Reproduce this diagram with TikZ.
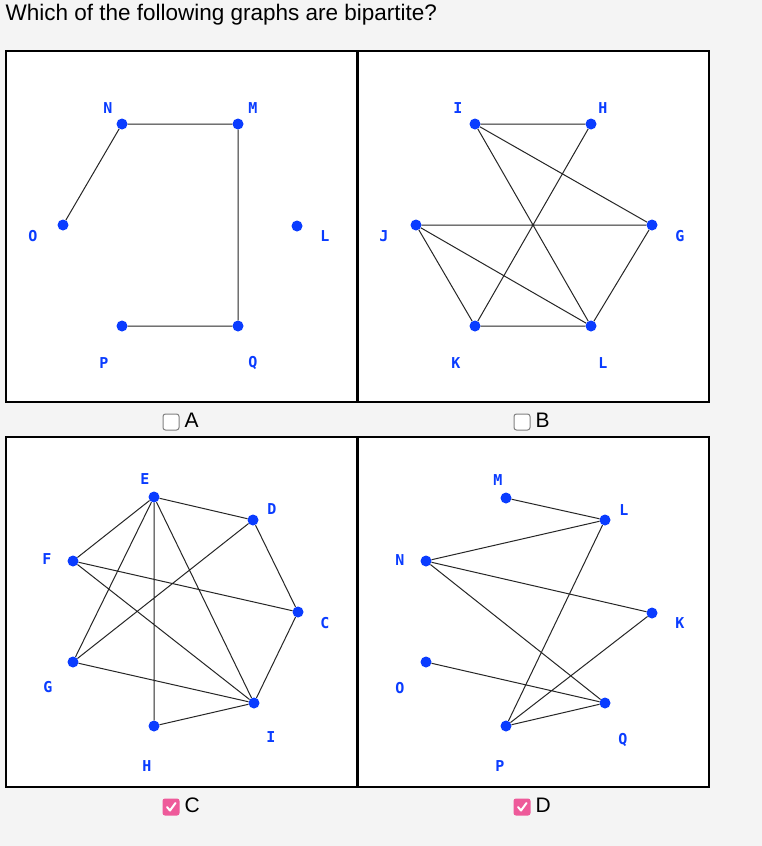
\documentclass[tikz,border=0pt]{standalone}
\usepackage{fontspec}
\setmainfont{Liberation Sans}
\newfontfamily\lblfont{DejaVu Sans Mono}
\definecolor{bg}{HTML}{F4F4F4}
\definecolor{vblue}{HTML}{0A3CFF}
\definecolor{pinkbox}{HTML}{EE5A9A}
\tikzset{
  vtx/.style={circle,fill=vblue,inner sep=0pt,minimum size=11pt},
  lbl/.style={text=vblue,font=\lblfont\bfseries\fontsize{15}{15}\selectfont},
  edge/.style={draw=black!85,line width=1pt},
  panel/.style={draw=black,line width=1.6pt,fill=white},
  cbox/.style={draw=gray,line width=1pt,rounded corners=2.5pt,fill=white,minimum size=16pt,inner sep=0pt},
  cboxon/.style={fill=pinkbox,rounded corners=2.5pt,minimum size=17pt,inner sep=0pt},
  opt/.style={font=\fontsize{21}{21}\selectfont,anchor=west}
}
\begin{document}
\begin{tikzpicture}[x=1pt,y=-1pt]
\fill[bg] (0,0) rectangle (762,846);
\useasboundingbox (0,0) rectangle (762,846);
\node[anchor=west,font=\fontsize{22.5}{22.5}\selectfont] (title) at (2,15) {Which of the following graphs are bipartite?};
\node[panel,minimum width=351pt,minimum height=351pt,anchor=north west,inner sep=0pt] (pA) at (5,50) {};
\node[panel,minimum width=351pt,minimum height=351pt,anchor=north west,inner sep=0pt] (pB) at (357,50) {};
\node[panel,minimum width=351pt,minimum height=350pt,anchor=north west,inner sep=0pt] (pC) at (5,436) {};
\node[panel,minimum width=351pt,minimum height=350pt,anchor=north west,inner sep=0pt] (pD) at (357,436) {};
% Graph A
\node[vtx] (aN) at (122,124) {}; \node[vtx] (aM) at (238,124) {};
\node[vtx] (aO) at (63,225) {}; \node[vtx] (aL) at (297,226) {};
\node[vtx] (aP) at (122,326) {}; \node[vtx] (aQ) at (238,326) {};
\draw[edge] (aN)--(aM) (aN)--(aO) (aM)--(aQ) (aQ)--(aP);
\node[lbl] (laN) at (108,108) {N}; \node[lbl] (laM) at (253,108) {M};
\node[lbl] (laO) at (33,236) {O}; \node[lbl] (laL) at (325,236) {L};
\node[lbl] (laP) at (104,363) {P}; \node[lbl] (laQ) at (253,363) {Q};
% Graph B
\node[vtx] (bI) at (475,124) {}; \node[vtx] (bH) at (591,124) {};
\node[vtx] (bJ) at (416,225) {}; \node[vtx] (bG) at (652,225) {};
\node[vtx] (bK) at (475,326) {}; \node[vtx] (bL) at (591,326) {};
\draw[edge] (bI)--(bH) (bI)--(bG) (bI)--(bL) (bH)--(bK) (bJ)--(bG) (bJ)--(bK) (bJ)--(bL) (bK)--(bL) (bG)--(bL);
\node[lbl] (lbI) at (458,108) {I}; \node[lbl] (lbH) at (603,108) {H};
\node[lbl] (lbJ) at (384,236) {J}; \node[lbl] (lbG) at (680,236) {G};
\node[lbl] (lbK) at (456,363) {K}; \node[lbl] (lbL) at (603,363) {L};
% Graph C
\node[vtx] (cE) at (154,497) {}; \node[vtx] (cD) at (253,520) {};
\node[vtx] (cF) at (73,561) {}; \node[vtx] (cC) at (298,612) {};
\node[vtx] (cG) at (73,662) {}; \node[vtx] (cI) at (254,703) {};
\node[vtx] (cH) at (154,726) {};
\draw[edge] (cE)--(cD) (cE)--(cF) (cE)--(cG) (cE)--(cH) (cE)--(cI) (cF)--(cC) (cF)--(cI) (cG)--(cD) (cG)--(cI) (cH)--(cI) (cD)--(cC) (cC)--(cI);
\node[lbl] (lcE) at (145,479) {E}; \node[lbl] (lcD) at (272,509) {D};
\node[lbl] (lcF) at (47,559) {F}; \node[lbl] (lcC) at (325,623) {C};
\node[lbl] (lcG) at (48,687) {G}; \node[lbl] (lcI) at (271,737) {I};
\node[lbl] (lcH) at (147,766) {H};
% Graph D
\node[vtx] (dM) at (506,498) {}; \node[vtx] (dL) at (605,520) {};
\node[vtx] (dN) at (426,561) {}; \node[vtx] (dK) at (652,613) {};
\node[vtx] (dO) at (426,662) {}; \node[vtx] (dQ) at (605,703) {};
\node[vtx] (dP) at (506,726) {};
\draw[edge] (dM)--(dL) (dL)--(dN) (dL)--(dP) (dN)--(dK) (dN)--(dQ) (dK)--(dP) (dO)--(dQ) (dP)--(dQ);
\node[lbl] (ldM) at (498,480) {M}; \node[lbl] (ldL) at (624,510) {L};
\node[lbl] (ldN) at (400,560) {N}; \node[lbl] (ldK) at (680,623) {K};
\node[lbl] (ldO) at (400,688) {O}; \node[lbl] (ldQ) at (623,740) {Q};
\node[lbl] (ldP) at (500,766) {P};
% Options
\node[cbox] (cbA) at (171,422) {}; \node[opt] (oA) at (181,420) {A};
\node[cbox] (cbB) at (522,422) {}; \node[opt] (oB) at (532,420) {B};
\node[cboxon] (cbC) at (171,807) {}; \node[opt] (oC) at (181,805) {C};
\node[cboxon] (cbD) at (522,807) {}; \node[opt] (oD) at (532,805) {D};
\draw[white,line width=2pt,line cap=round,line join=round] ([shift={(-4,0)}]cbC.center) -- ([shift={(-1,3.5)}]cbC.center) -- ([shift={(4.5,-4)}]cbC.center);
\draw[white,line width=2pt,line cap=round,line join=round] ([shift={(-4,0)}]cbD.center) -- ([shift={(-1,3.5)}]cbD.center) -- ([shift={(4.5,-4)}]cbD.center);
\end{tikzpicture}
\end{document}
